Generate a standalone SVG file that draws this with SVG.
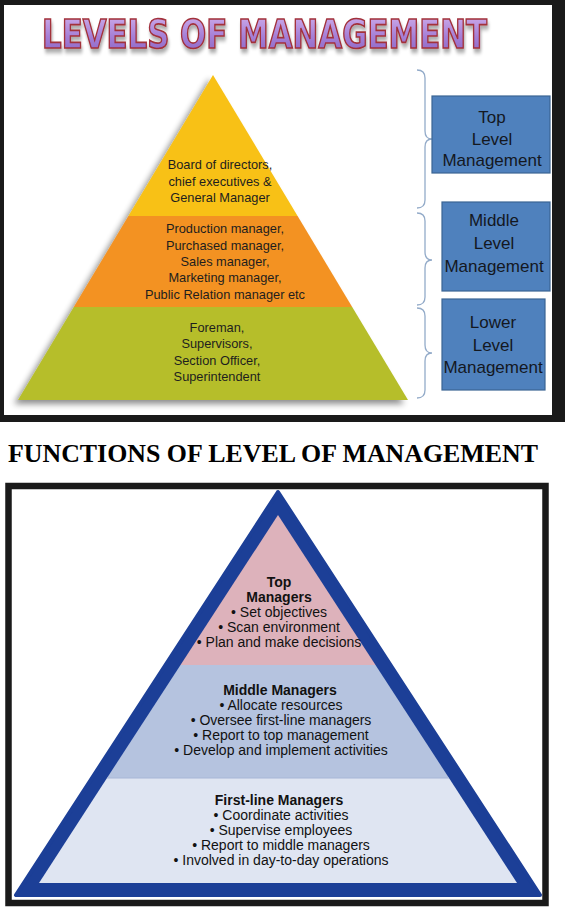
<svg xmlns="http://www.w3.org/2000/svg" width="565" height="916" viewBox="0 0 565 916">
  <defs>
    <linearGradient id="titleGrad" x1="0" y1="0" x2="0" y2="1">
      <stop offset="0" stop-color="#d4b3ee"/>
      <stop offset="0.55" stop-color="#a57fd6"/>
      <stop offset="1" stop-color="#8a62c2"/>
    </linearGradient>
    <filter id="shadow" x="-10%" y="-10%" width="120%" height="125%">
      <feGaussianBlur in="SourceAlpha" stdDeviation="3"/>
      <feOffset dx="-4" dy="4" result="b"/>
      <feComponentTransfer><feFuncA type="linear" slope="0.45"/></feComponentTransfer>
      <feMerge><feMergeNode/><feMergeNode in="SourceGraphic"/></feMerge>
    </filter>
    <filter id="tshadow" x="-10%" y="-50%" width="120%" height="200%">
      <feGaussianBlur in="SourceAlpha" stdDeviation="1.6"/>
      <feOffset dx="1" dy="3"/>
      <feComponentTransfer><feFuncA type="linear" slope="0.35"/></feComponentTransfer>
      <feMerge><feMergeNode/><feMergeNode in="SourceGraphic"/></feMerge>
    </filter>
  </defs>
  <style>
    .pt { font-family: "Liberation Sans", Arial, sans-serif; font-size: 12.8px; fill: #1e1e1e; text-anchor: middle; }
    .bx { fill: #4f81bd; stroke: #3b6593; stroke-width: 1.2; }
    .bt { font-family: "Liberation Sans", Arial, sans-serif; font-size: 17px; fill: #14181f; text-anchor: middle; }
    .brace { fill: none; stroke: #93abc9; stroke-width: 1.3; }
    .ft { font-family: "Liberation Sans", Arial, sans-serif; font-size: 14px; fill: #111; text-anchor: middle; }
    .fb { font-weight: bold; }
  </style>

  <!-- backgrounds / frames -->
  <rect x="0" y="0" width="565" height="916" fill="#ffffff"/>
  <rect x="0" y="0" width="565" height="422" fill="#1a1a1a"/>
  <rect x="4" y="5" width="548" height="410" fill="#ffffff"/>
  <rect x="8.5" y="486" width="537" height="417" fill="#ffffff" stroke="#1a1a1a" stroke-width="6.5"/>

  <!-- top title -->
  <g transform="translate(42,48) scale(1,1.26)">
    <text id="title-top" x="0" y="0" textLength="445" lengthAdjust="spacingAndGlyphs" font-family="DejaVu Sans, sans-serif" font-weight="bold" font-size="31" fill="url(#titleGrad)" stroke="#a2303a" stroke-width="1.3" filter="url(#tshadow)">LEVELS OF MANAGEMENT</text>
  </g>

  <!-- top pyramid -->
  <g id="pyramid-top" filter="url(#shadow)">
    <polygon points="213,75 128.4,216 297.6,216" fill="#f8c117"/>
    <polygon points="128.4,216 297.6,216 352.2,307 73.8,307" fill="#f39222"/>
    <polygon points="73.8,307 352.2,307 408,400 18,400" fill="#b6be2a"/>
  </g>
  <g id="tier-top">
    <text class="pt" x="220" y="169">Board of directors,</text>
    <text class="pt" x="220" y="186">chief executives &amp;</text>
    <text class="pt" x="220" y="202">General Manager</text>
  </g>
  <g id="tier-middle">
    <text class="pt" x="225" y="233">Production manager,</text>
    <text class="pt" x="225" y="249.5">Purchased manager,</text>
    <text class="pt" x="225" y="266">Sales manager,</text>
    <text class="pt" x="225" y="282">Marketing manager,</text>
    <text class="pt" x="225" y="298.5">Public Relation manager etc</text>
  </g>
  <g id="tier-lower">
    <text class="pt" x="217" y="332">Foreman,</text>
    <text class="pt" x="217" y="348">Supervisors,</text>
    <text class="pt" x="217" y="364.5">Section Officer,</text>
    <text class="pt" x="217" y="381">Superintendent</text>
  </g>

  <!-- connectors: braces -->
  <g id="connectors">
    <path class="brace" d="M417,70 Q425,70 425,78 L425,131 Q425,139 432,139 Q425,139 425,147 L425,200 Q425,208 417,208"/>
    <path class="brace" d="M417,213 Q425,213 425,221 L425,252 Q425,260 432,260 Q425,260 425,268 L425,297 Q425,305 417,305"/>
    <path class="brace" d="M417,308 Q425,308 425,316 L425,345 Q425,353 432,353 Q425,353 425,361 L425,390 Q425,398 417,398"/>
  </g>

  <!-- level boxes -->
  <g id="box-top">
    <rect class="bx" x="432" y="96" width="118" height="77"/>
    <text class="bt" x="492" y="123">Top</text>
    <text class="bt" x="492" y="145">Level</text>
    <text class="bt" x="492" y="166">Management</text>
  </g>
  <g id="box-middle">
    <rect class="bx" x="442" y="202" width="108" height="89"/>
    <text class="bt" x="494" y="226">Middle</text>
    <text class="bt" x="494" y="249">Level</text>
    <text class="bt" x="494" y="272">Management</text>
  </g>
  <g id="box-lower">
    <rect class="bx" x="442" y="299" width="103" height="91"/>
    <text class="bt" x="493" y="328">Lower</text>
    <text class="bt" x="493" y="351">Level</text>
    <text class="bt" x="493" y="373">Management</text>
  </g>

  <!-- second title -->
  <text id="title-functions" x="8" y="462" textLength="530" lengthAdjust="spacingAndGlyphs" font-family="Liberation Serif, Times New Roman, serif" font-weight="bold" font-size="26" fill="#000">FUNCTIONS OF LEVEL OF MANAGEMENT</text>

  <!-- bottom pyramid -->
  <g id="pyramid-bottom">
    <polygon points="278,492 16,895 540,895" fill="#1c3f97" stroke="#1c3f97" stroke-width="4" stroke-linejoin="round"/>
    <polygon points="278,515 180.5,665 375.5,665" fill="#ddb2bb"/>
    <polygon points="180.5,665 375.5,665 449,778 107,778" fill="#b5c3df"/>
    <polygon points="107,778 449,778 517,883 39,883" fill="#dfe5f2"/>
    <line x1="107" y1="778" x2="449" y2="778" stroke="#a7b6d6" stroke-width="1"/>
  </g>
  <g id="func-top">
    <text class="ft fb" x="279" y="587">Top</text>
    <text class="ft fb" x="279" y="601.5">Managers</text>
    <text class="ft" x="279" y="617">• Set objectives</text>
    <text class="ft" x="279" y="632">• Scan environment</text>
    <text class="ft" x="279" y="647">• Plan and make decisions</text>
  </g>
  <g id="func-middle">
    <text class="ft fb" x="280" y="695">Middle Managers</text>
    <text class="ft" x="281" y="710">• Allocate resources</text>
    <text class="ft" x="281" y="725">• Oversee first-line managers</text>
    <text class="ft" x="281" y="740">• Report to top management</text>
    <text class="ft" x="281" y="755">• Develop and implement activities</text>
  </g>
  <g id="func-first">
    <text class="ft fb" x="279" y="805">First-line Managers</text>
    <text class="ft" x="281" y="820">• Coordinate activities</text>
    <text class="ft" x="281" y="835">• Supervise employees</text>
    <text class="ft" x="281" y="850">• Report to middle managers</text>
    <text class="ft" x="281" y="865">• Involved in day-to-day operations</text>
  </g>
</svg>
